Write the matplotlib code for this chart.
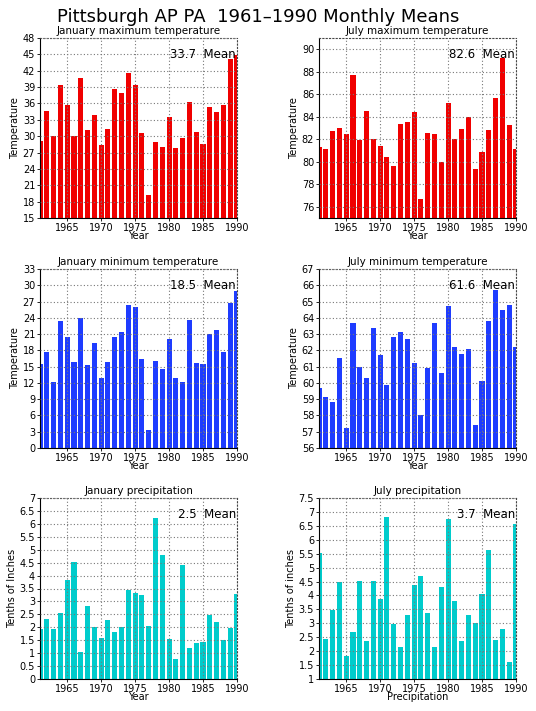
import numpy as np
import matplotlib
matplotlib.use("Agg")
import matplotlib.pyplot as plt

years = list(range(1961, 1991))

jan_max = [29.1, 34.6, 30.0, 39.3, 35.8, 30.1, 40.7, 31.2, 33.9, 28.3,
           31.4, 38.7, 38.0, 41.5, 39.3, 30.5, 19.3, 29.0, 28.1, 33.5,
           27.9, 29.6, 36.3, 30.7, 28.6, 35.4, 34.4, 35.7, 44.2, 44.8]
jul_max = [81.3, 81.1, 82.7, 83.0, 82.5, 87.7, 81.9, 84.5, 82.0, 81.4,
           80.4, 79.6, 83.4, 83.5, 84.4, 76.7, 82.6, 82.5, 80.0, 85.2,
           82.0, 82.9, 84.0, 79.4, 80.9, 82.8, 85.7, 89.2, 83.3, 81.1]
jan_min = [15.5, 17.7, 12.2, 23.4, 20.5, 15.9, 24.0, 15.3, 19.4, 12.9,
           15.9, 20.5, 21.4, 26.4, 26.0, 16.4, 3.4, 16.1, 14.6, 20.1,
           12.9, 12.2, 23.6, 15.7, 15.5, 21.0, 21.8, 17.7, 26.7, 29.0]
jul_min = [59.7, 59.15, 58.8, 61.5, 57.2, 63.7, 61.0, 60.3, 63.4, 61.7,
           59.9, 62.8, 63.1, 62.7, 61.2, 58.0, 60.9, 63.7, 60.6, 64.7,
           62.2, 61.8, 62.1, 57.4, 60.1, 63.8, 65.7, 64.5, 64.8, 62.2]
jan_prcp = [1.95, 2.33, 1.95, 2.57, 3.84, 4.54, 1.06, 2.84, 2.02, 1.60,
            2.29, 1.83, 2.02, 3.45, 3.34, 3.26, 2.06, 6.24, 4.81, 1.56,
            0.79, 4.42, 1.21, 1.41, 1.44, 2.49, 2.22, 1.50, 1.99, 3.30]
jul_prcp = [5.54, 2.45, 3.46, 4.50, 1.84, 2.70, 4.53, 2.38, 4.53, 3.89,
            6.83, 2.99, 2.16, 3.31, 4.39, 4.71, 3.38, 2.16, 4.32, 6.76,
            3.81, 2.38, 3.31, 3.02, 4.07, 5.65, 2.41, 2.81, 1.62, 6.58]

titles = ["January maximum temperature", "July maximum temperature",
          "January minimum temperature", "July minimum temperature",
          "January precipitation", "July precipitation"]
means = ["33.7", "82.6", "18.5", "61.6", "2.5", "3.7"]
ylabels = ["Temperature", "Temperature", "Temperature", "Temperature",
           "Tenths of Inches", "Tenths of inches"]
xlabels = ["Year", "Year", "Year", "Year", "Year", "Precipitation"]
series = [jan_max, jul_max, jan_min, jul_min, jan_prcp, jul_prcp]
colors = ["#f00000", "#f00000", "#1e3cff", "#1e3cff", "#00cccc", "#00cccc"]
ylims = [(15, 48), (75, 91), (0, 33), (56, 67), (0, 7), (1, 7.5)]
yticks = [np.arange(15, 49, 3), np.arange(76, 91, 2), np.arange(0, 34, 3),
          np.arange(56, 68, 1), np.arange(0, 7.01, 0.5), np.arange(1, 7.51, 0.5)]

fig = plt.figure(figsize=(5.36, 7.11), dpi=100)
fig.text(0.482, 0.976, "Pittsburgh AP PA  1961\u20131990 Monthly Means",
         ha="center", va="center", fontsize=13)

lefts = [40 / 536, 319 / 536]
bottoms = [(711 - 218) / 711, (711 - 448) / 711, (711 - 679) / 711]
heights = [180 / 711, 179 / 711, 181 / 711]

for i in range(6):
    r, c = i // 2, i % 2
    ax = fig.add_axes([lefts[c], bottoms[r], 197 / 536, heights[r]])
    ax.bar(years, series[i], width=0.75, color=colors[i], zorder=1)
    ax.set_xlim(1961, 1990)
    ax.set_ylim(*ylims[i])
    ax.set_xticks([1965, 1970, 1975, 1980, 1985, 1990])
    ax.set_yticks(yticks[i])
    ax.set_yticklabels(["%g" % v for v in yticks[i]])
    ax.tick_params(labelsize=7, length=2, width=0.6, pad=1.5)
    ax.grid(True, color="#777777", linestyle=(0, (1, 2)), linewidth=0.8)
    ax.set_axisbelow(False)
    for s in ["top", "right"]:
        ax.spines[s].set_linestyle((0, (1, 2)))
        ax.spines[s].set_color("#444444")
    ax.set_title(titles[i], fontsize=7.5, pad=3)
    ax.set_ylabel(ylabels[i], fontsize=7, labelpad=2)
    ax.set_xlabel(xlabels[i], fontsize=7, labelpad=-1)
    ax.text(0.995, 0.91, means[i] + "  Mean", transform=ax.transAxes,
            ha="right", va="center", fontsize=8.5)

fig.savefig("out.png", dpi=100)
